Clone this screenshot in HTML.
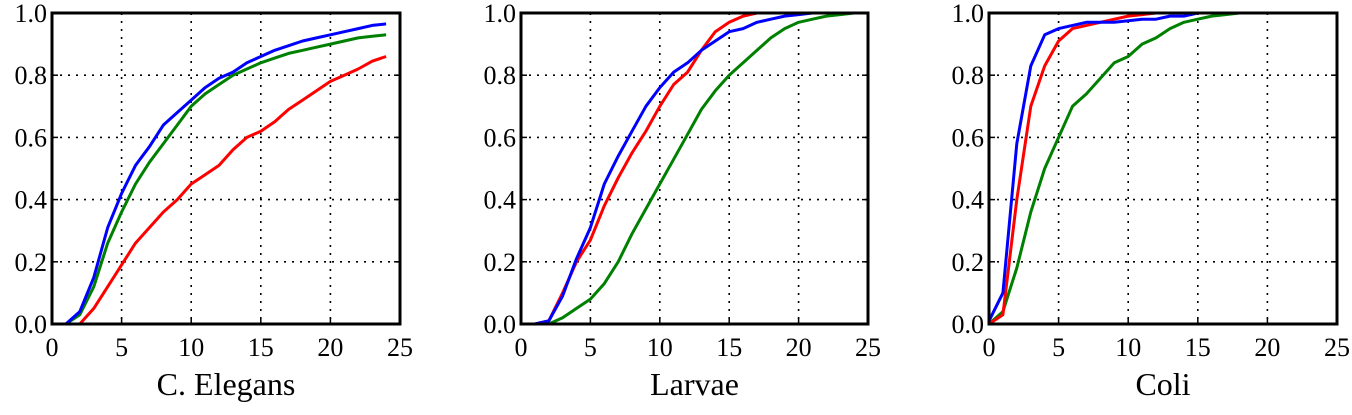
<!DOCTYPE html>
<html><head><meta charset="utf-8"><style>
html,body{margin:0;padding:0;background:#fff;}
svg{display:block;}
text{font-family:"Liberation Serif","DejaVu Serif",serif;}
</style></head><body>
<svg id="c" width="1352" height="415" viewBox="0 0 1352 415" xmlns="http://www.w3.org/2000/svg"></svg>
<script>
const titles = ["C. Elegans","Larvae","Coli"];
const xTicks = [0,5,10,15,20,25];
const yTicks = [0.0,0.2,0.4,0.6,0.8,1.0];
const xs = [0,1,2,3,4,5,6,7,8,9,10,11,12,13,14,15,16,17,18,19,20,21,22,23,24];
const elegansBlue = [0,0,0.04,0.15,0.31,0.42,0.51,0.57,0.64,0.68,0.72,0.76,0.79,0.81,0.84,0.86,0.88,0.895,0.91,0.92,0.93,0.94,0.95,0.96,0.965];
const elegansGreen = [0,0,0.03,0.12,0.26,0.36,0.45,0.52,0.58,0.64,0.70,0.74,0.77,0.80,0.82,0.84,0.855,0.87,0.88,0.89,0.90,0.91,0.92,0.925,0.93];
const elegansRed = [0,0,0,0.05,0.12,0.19,0.26,0.31,0.36,0.40,0.45,0.48,0.51,0.56,0.60,0.62,0.65,0.69,0.72,0.75,0.78,0.80,0.82,0.845,0.86];
const larvaeBlue = [0,0,0.01,0.09,0.21,0.31,0.45,0.54,0.62,0.70,0.76,0.81,0.84,0.88,0.91,0.94,0.95,0.97,0.98,0.99,0.995,1,1,1,1];
const larvaeRed = [0,0,0.01,0.10,0.20,0.27,0.38,0.47,0.55,0.62,0.70,0.77,0.81,0.88,0.94,0.97,0.99,1,1,1,1,1,1,1,1];
const larvaeGreen = [0,0,0,0.02,0.05,0.08,0.13,0.20,0.29,0.37,0.45,0.53,0.61,0.69,0.75,0.80,0.84,0.88,0.92,0.95,0.97,0.98,0.99,0.995,1];
const coliBlue = [0.01,0.10,0.58,0.83,0.93,0.95,0.96,0.97,0.97,0.97,0.975,0.98,0.98,0.99,0.99,1,1,1,1,1,1,1,1,1,1];
const coliRed = [0,0.03,0.40,0.70,0.83,0.91,0.95,0.96,0.97,0.98,0.99,0.995,1,1,1,1,1,1,1,1,1,1,1,1,1];
const coliGreen = [0,0.04,0.18,0.36,0.50,0.60,0.70,0.74,0.79,0.84,0.86,0.90,0.92,0.95,0.97,0.98,0.99,0.995,1,1,1,1,1,1,1];

const panels = [
  {left:52,right:400,series:[elegansRed,elegansGreen,elegansBlue]},
  {left:521,right:868,series:[larvaeGreen,larvaeRed,larvaeBlue]},
  {left:989,right:1337,series:[coliGreen,coliRed,coliBlue]}
];
const NS="http://www.w3.org/2000/svg";
const svg=document.getElementById('c');
const plotTop=13,plotBottom=324;
const FONT='"Liberation Serif", "DejaVu Serif", serif';
function mk(tag,attrs,parent){const e=document.createElementNS(NS,tag);for(const k in attrs)e.setAttribute(k,attrs[k]);(parent||svg).appendChild(e);return e;}
panels.forEach((p,pi)=>{
  const sx=v=>p.left+v/25*(p.right-p.left);
  const sy=v=>plotBottom-v*(plotBottom-plotTop);
  const g=mk('g',{});
  
  
  xTicks.forEach(t=>{
    if(t>0&&t<25){const l=mk('line',{x1:sx(t),x2:sx(t),y1:plotTop,y2:plotBottom,stroke:'#000','stroke-width':1.6,'stroke-dasharray':'2,6'},g);
    
    }
    mk('line',{x1:sx(t),x2:sx(t),y1:plotBottom,y2:plotBottom-6,stroke:'#000','stroke-width':1.5},g);
    const lab=mk('text',{x:sx(t),y:plotBottom+32,'font-size':26,'text-anchor':'middle','font-family':FONT},g);
    lab.textContent=t;
    
    
  });
  yTicks.forEach(t=>{
    if(t>0&&t<1){const l=mk('line',{x1:p.left,x2:p.right,y1:sy(t),y2:sy(t),stroke:'#000','stroke-width':1.6,'stroke-dasharray':'2,6'},g);
    
    }
    mk('line',{x1:p.left,x2:p.left+6,y1:sy(t),y2:sy(t),stroke:'#000','stroke-width':1.5},g);
    mk('line',{x1:p.right,x2:p.right-6,y1:sy(t),y2:sy(t),stroke:'#000','stroke-width':1.5},g);
    const lab=mk('text',{x:p.left-5,y:sy(t)+9,'font-size':26,'text-anchor':'end','font-family':FONT},g);
    lab.textContent=t.toFixed(1);
    
    
  });
  const cols=pi===0?['#ff0000','#008000','#0000ff']:['#008000','#ff0000','#0000ff'];
  const names=pi===0?['red','green','blue']:['green','red','blue'];
  p.series.forEach((s,si)=>{
    const d=s.map((v,i)=>(i?'L':'M')+sx(xs[i]).toFixed(1)+','+sy(v).toFixed(1)).join('');
    const path=mk('path',{d:d,fill:'none',stroke:cols[si],'stroke-width':3,'stroke-linejoin':'round'},g);
    
    
  });
  const fr=mk('rect',{x:p.left,y:plotTop,width:p.right-p.left,height:plotBottom-plotTop,fill:'none',stroke:'#000','stroke-width':3},g);
  
  
  const tt=mk('text',{x:(p.left+p.right)/2,y:395,'font-size':32,'text-anchor':'middle','font-family':FONT},g);
  tt.textContent=titles[pi];
  
  
});
</script>
</body></html>
